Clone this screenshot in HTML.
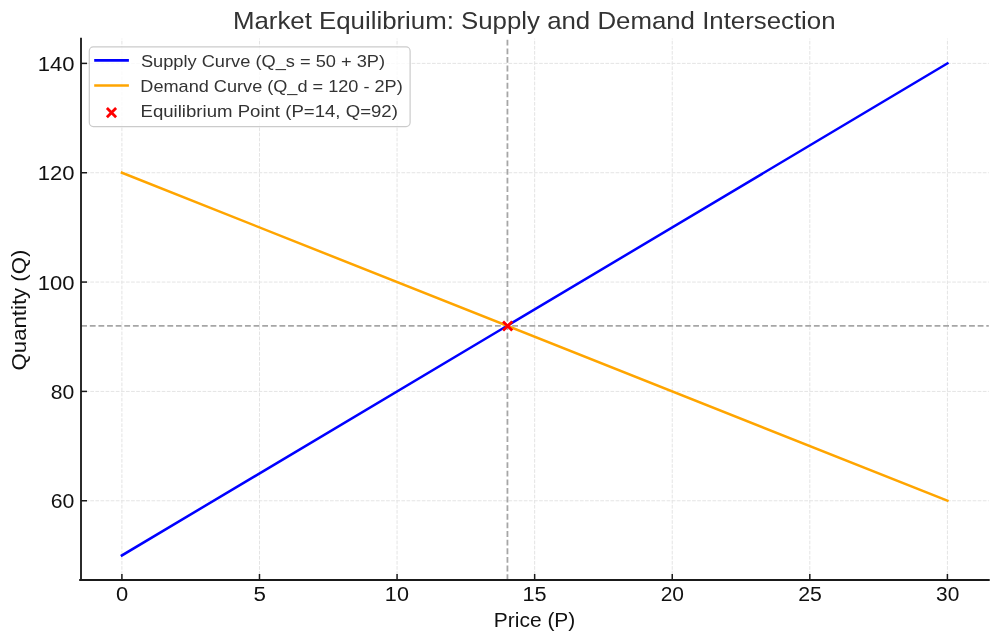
<!DOCTYPE html><html><head><meta charset="utf-8"><style>html,body{margin:0;padding:0;background:#fff;overflow:hidden}svg{display:block;will-change:transform}text{font-family:"Liberation Sans",sans-serif}</style></head><body>
<svg width="1000" height="642" viewBox="0 0 1000 642">
<rect width="1000" height="642" fill="#fff"/>
<g stroke="#e4e4e4" stroke-width="1" stroke-dasharray="3.7 1.4"><line x1="121.90" y1="580.00" x2="121.90" y2="38.60"/><line x1="259.49" y1="580.00" x2="259.49" y2="38.60"/><line x1="397.07" y1="580.00" x2="397.07" y2="38.60"/><line x1="534.65" y1="580.00" x2="534.65" y2="38.60"/><line x1="672.24" y1="580.00" x2="672.24" y2="38.60"/><line x1="809.82" y1="580.00" x2="809.82" y2="38.60"/><line x1="947.41" y1="580.00" x2="947.41" y2="38.60"/><line x1="80.10" y1="500.75" x2="988.80" y2="500.75"/><line x1="80.10" y1="391.41" x2="988.80" y2="391.41"/><line x1="80.10" y1="282.07" x2="988.80" y2="282.07"/><line x1="80.10" y1="172.73" x2="988.80" y2="172.73"/><line x1="80.10" y1="63.39" x2="988.80" y2="63.39"/></g>
<g stroke="#a6a6a6" stroke-width="1.8" stroke-dasharray="5.8 2.82"><line x1="507.44" y1="580" x2="507.44" y2="38.60"/><line x1="81.2" y1="325.81" x2="988.80" y2="325.81"/></g>
<line x1="121.90" y1="555.42" x2="947.41" y2="63.39" stroke="#0000ff" stroke-width="2.5" stroke-linecap="square"/>
<line x1="121.90" y1="172.73" x2="947.41" y2="500.75" stroke="#ffa500" stroke-width="2.5" stroke-linecap="square"/>
<path d="M503.04 321.41L512.24 330.61M503.04 330.61L512.24 321.41" stroke="#ff0000" stroke-width="2.8"/>
<g stroke="#1a1a1a" stroke-width="1.85" stroke-linecap="square"><line x1="81" y1="38.60" x2="81" y2="580.00"/><line x1="80.10" y1="580.00" x2="988.80" y2="580.00"/></g>
<g stroke="#1a1a1a" stroke-width="1.5"><line x1="121.90" y1="580.00" x2="121.90" y2="574.00"/><line x1="259.49" y1="580.00" x2="259.49" y2="574.00"/><line x1="397.07" y1="580.00" x2="397.07" y2="574.00"/><line x1="534.65" y1="580.00" x2="534.65" y2="574.00"/><line x1="672.24" y1="580.00" x2="672.24" y2="574.00"/><line x1="809.82" y1="580.00" x2="809.82" y2="574.00"/><line x1="947.41" y1="580.00" x2="947.41" y2="574.00"/><line x1="81" y1="500.75" x2="87" y2="500.75"/><line x1="81" y1="391.41" x2="87" y2="391.41"/><line x1="81" y1="282.07" x2="87" y2="282.07"/><line x1="81" y1="172.73" x2="87" y2="172.73"/><line x1="81" y1="63.39" x2="87" y2="63.39"/></g>
<rect x="89.3" y="46.9" width="320.8" height="79.7" rx="4" ry="4" fill="#fff" fill-opacity="0.8" stroke="#cbcbcb" stroke-width="1.2"/>
<line x1="94.2" y1="60.35" x2="128.9" y2="60.35" stroke="#0000ff" stroke-width="2.6"/>
<line x1="94.2" y1="85.45" x2="128.9" y2="85.45" stroke="#ffa500" stroke-width="2.6"/>
<path d="M106.90 108.00L116.10 117.20M106.90 117.20L116.10 108.00" stroke="#ff0000" stroke-width="2.8"/>
<text transform="translate(232.97 29.00) scale(1.0670 1)" font-size="24.2" fill="#333333">Market Equilibrium: Supply and Demand Intersection</text>
<text transform="translate(116.10 600.60) scale(1.0633 1)" font-size="20.6" fill="#111111">0</text>
<text transform="translate(253.48 600.60) scale(1.0872 1)" font-size="20.6" fill="#111111">5</text>
<text transform="translate(384.87 600.60) scale(1.0488 1)" font-size="20.6" fill="#111111">10</text>
<text transform="translate(522.44 600.60) scale(1.0552 1)" font-size="20.6" fill="#111111">15</text>
<text transform="translate(660.72 600.60) scale(1.0178 1)" font-size="20.6" fill="#111111">20</text>
<text transform="translate(798.19 600.60) scale(1.0333 1)" font-size="20.6" fill="#111111">25</text>
<text transform="translate(936.05 600.60) scale(1.0152 1)" font-size="20.6" fill="#111111">30</text>
<text transform="translate(50.72 508.20) scale(1.0320 1)" font-size="20.6" fill="#111111">60</text>
<text transform="translate(50.85 398.86) scale(1.0259 1)" font-size="20.6" fill="#111111">80</text>
<text transform="translate(37.71 289.52) scale(1.0698 1)" font-size="20.6" fill="#111111">100</text>
<text transform="translate(37.71 180.18) scale(1.0698 1)" font-size="20.6" fill="#111111">120</text>
<text transform="translate(37.71 70.84) scale(1.0698 1)" font-size="20.6" fill="#111111">140</text>
<text transform="translate(493.82 626.80) scale(1.0329 1)" font-size="20.3" fill="#111111">Price (P)</text>
<text transform="translate(25.80 370.49) rotate(-90) scale(1.0947 1)" font-size="20.3" fill="#111111">Quantity (Q)</text>
<text transform="translate(140.90 66.60) scale(1.0603 1)" font-size="17.2" fill="#333333">Supply Curve (Q_s = 50 + 3P)</text>
<text transform="translate(140.35 92.00) scale(1.0546 1)" font-size="17.2" fill="#333333">Demand Curve (Q_d = 120 - 2P)</text>
<text transform="translate(140.51 117.20) scale(1.0818 1)" font-size="17.2" fill="#333333">Equilibrium Point (P=14, Q=92)</text>
</svg></body></html>
